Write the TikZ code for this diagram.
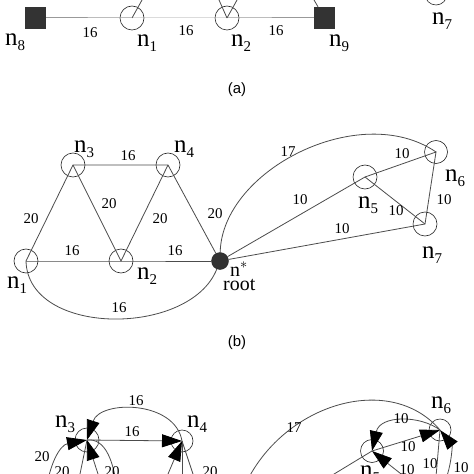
\documentclass[tikz,border=0pt]{standalone}
\usepackage{fontspec}
\setmainfont{Liberation Serif}
\newfontfamily\capfont{Liberation Sans}
\usetikzlibrary{arrows.meta}
\newcommand{\nlab}[1]{{\fontsize{25}{25}\selectfont n}\raisebox{-5bp}{\fontsize{15}{15}\selectfont #1}}
\begin{document}
\begin{tikzpicture}[x=1bp,y=-1bp,
  vtx/.style={circle,draw=black!85,line width=0.6bp,minimum size=24bp,inner sep=0},
  sq/.style={rectangle,fill=black!80,minimum width=21bp,minimum height=22bp,inner sep=0},
  rootv/.style={circle,fill=black!80,draw=black!85,minimum size=17bp,inner sep=0},
  edg/.style={draw=black!70,line width=0.8bp},
  aedg/.style={draw=black!40,line width=1bp},
  arr/.style={edg,-{Triangle[length=20bp,width=13bp,black]}},
  wt/.style={font=\fontsize{15}{15}\selectfont,inner sep=0},
  lab/.style={anchor=base west,inner sep=0},
  captxt/.style={font=\capfont\fontsize{15}{15}\selectfont,inner sep=0}
]
\useasboundingbox (0,0) rectangle (474,474);
\clip (0,0) rectangle (474,474);
\fill[white] (0,0) rectangle (474,474);

% ---------- (a) ----------
\node[sq] (a8) at (35.5,18) {};
\node[vtx] (a1) at (132,18) {};
\node[vtx] (a2) at (227,18) {};
\node[sq] (a9) at (324.5,18) {};
\node[vtx,minimum size=22bp] (a7) at (436,-6) {};
\coordinate (a1t) at (147.6,-10);
\coordinate (a2l) at (214.6,-10);
\coordinate (a2r) at (242.6,-10);
\coordinate (a9t) at (308.2,-10);
\draw[aedg] (a8) -- (a1.center) -- (a2.center) -- (a9);
\draw[edg] (a1.center) -- (a1t);
\draw[edg] (a2.center) -- (a2l);
\draw[edg] (a2.center) -- (a2r);
\draw[edg] (a9) -- (a9t);
\node[wt] (wa1) at (90,33) {16};
\node[wt] (wa2) at (186,31) {16};
\node[wt] (wa3) at (276,31) {16};
\node[lab] (la8) at (5,46) {\nlab{8}};
\node[lab] (la1) at (137,47) {\nlab{1}};
\node[lab] (la2) at (231,47) {\nlab{2}};
\node[lab] (la9) at (329,47) {\nlab{9}};
\node[lab] (la7) at (432,25) {\nlab{7}};
\node[captxt] (capa) at (237,90) {(a)};

% ---------- (b) ----------
\node[vtx] (b1) at (26,261) {};
\node[vtx] (b2) at (121,261) {};
\node[vtx] (b3) at (73,165) {};
\node[vtx] (b4) at (168,165) {};
\node[rootv] (br) at (220,261) {};
\node[vtx] (b5) at (365,177) {};
\node[vtx,minimum size=23bp] (b6) at (436,152) {};
\node[vtx] (b7) at (425,224) {};
\draw[edg] (b1.center) -- (b3.center) -- (b4.center) -- (br);
\draw[edg] (b3.center) -- (b2.center) -- (b4.center);
\draw[edg] (b1.center) -- (b2.center) -- (br);
\draw[edg] (b1.center) .. controls (28,337) and (190,337) .. (br);
\draw[edg] (br) .. controls (222,170) and (360,100) .. (b6.center);
\draw[edg] (br) -- (b5.center) -- (b6.center) -- (b7.center) -- (br);
\draw[edg] (b5.center) -- (b7.center);
\node[wt] (wb1) at (128,156) {16};
\node[wt] (wb2) at (31,219) {20};
\node[wt] (wb3) at (109,204) {20};
\node[wt] (wb4) at (160,219) {20};
\node[wt] (wb5) at (215,214) {20};
\node[wt] (wb6) at (72,251) {16};
\node[wt] (wb7) at (175,251) {16};
\node[wt] (wb8) at (119,308) {16};
\node[wt] (wb9) at (288,152) {17};
\node[wt] (wb10) at (300,200) {10};
\node[wt] (wb11) at (342,229) {10};
\node[wt] (wb12) at (402,154) {10};
\node[wt] (wb13) at (396,211) {10};
\node[wt] (wb14) at (444,200) {10};
\node[lab] (lb3) at (74,153) {\nlab{3}};
\node[lab] (lb4) at (174,153) {\nlab{4}};
\node[lab] (lb1) at (7,288) {\nlab{1}};
\node[lab] (lb2) at (137,279) {\nlab{2}};
\node[lab] (lb5) at (358,209) {\nlab{5}};
\node[lab] (lb6) at (445,182) {\nlab{6}};
\node[lab] (lb7) at (422,258) {\nlab{7}};
\node[lab,font=\fontsize{20}{20}\selectfont] (lrs) at (230,276) {n$^{*}$};
\node[lab,font=\fontsize{20}{20}\selectfont] (lrt) at (223,290) {root};
\node[captxt] (capb) at (237,343) {(b)};

% ---------- (c) ----------
\node[vtx] (c3) at (87,440) {};
\node[vtx,minimum size=22bp] (c4) at (182,441) {};
\node[vtx,minimum size=23bp] (c5) at (372,451) {};
\node[vtx,minimum size=22bp] (c6) at (440,430) {};
\coordinate (c1a) at (45,500);
\coordinate (c1b) at (73,508);
\coordinate (c2a) at (109,508);
\coordinate (c2b) at (118,500);
\coordinate (c4l) at (154,507);
\coordinate (c4d) at (182,507);
\coordinate (c4r) at (204,507);
\coordinate (cr) at (232,536);
\coordinate (c7) at (434,500);
\draw[arr] (c3.center) -- (c4.center);
\draw[arr] (c4.center) .. controls (175,400) and (100,400) .. (c3.center);
\draw[arr] (c1a) .. controls (48,465) and (60,445) .. (c3.center);
\draw[edg] (c3.center) -- (c1b);
\draw[arr] (c2a) -- (c3.center);
\draw[edg] (c3.center) .. controls (105,438) and (115,460) .. (c2b);
\draw[arr] (c4l) -- (c4.center);
\draw[edg] (c4.center) -- (c4d);
\draw[edg] (c4.center) -- (c4r);
\draw[edg] (c6.center) .. controls (380,360) and (240,420) .. (cr);
\draw[arr] (c6.center) .. controls (420,415) and (380,415) .. (c5.center);
\draw[arr] (c5.center) -- (c6.center);
\draw[arr] (c7) .. controls (452,480) and (452,445) .. (c6.center);
\draw[edg] (c6.center) -- (c7);
\draw[arr] (c7) -- (c5.center);
\draw[edg] (c5.center) -- (cr);
\node[wt] (wc1) at (136,401) {16};
\node[wt] (wc2) at (132,432) {16};
\node[wt] (wc3) at (42,457) {20};
\node[wt] (wc4) at (62,472) {20};
\node[wt] (wc5) at (112,472) {20};
\node[wt] (wc6) at (210,472) {20};
\node[wt] (wc7) at (294,428) {17};
\node[wt] (wc8) at (401,419) {10};
\node[wt] (wc9) at (408,447) {10};
\node[wt] (wc10) at (430,464) {10};
\node[wt] (wc11) at (461,468) {10};
\node[wt] (wc12) at (407,470) {10};
\node[lab] (lc3) at (55,427) {\nlab{3}};
\node[lab] (lc4) at (187,427) {\nlab{4}};
\node[lab] (lc6) at (431,408) {\nlab{6}};
\node[lab] (lc5) at (360,477) {\nlab{5}};
\end{tikzpicture}
\end{document}
